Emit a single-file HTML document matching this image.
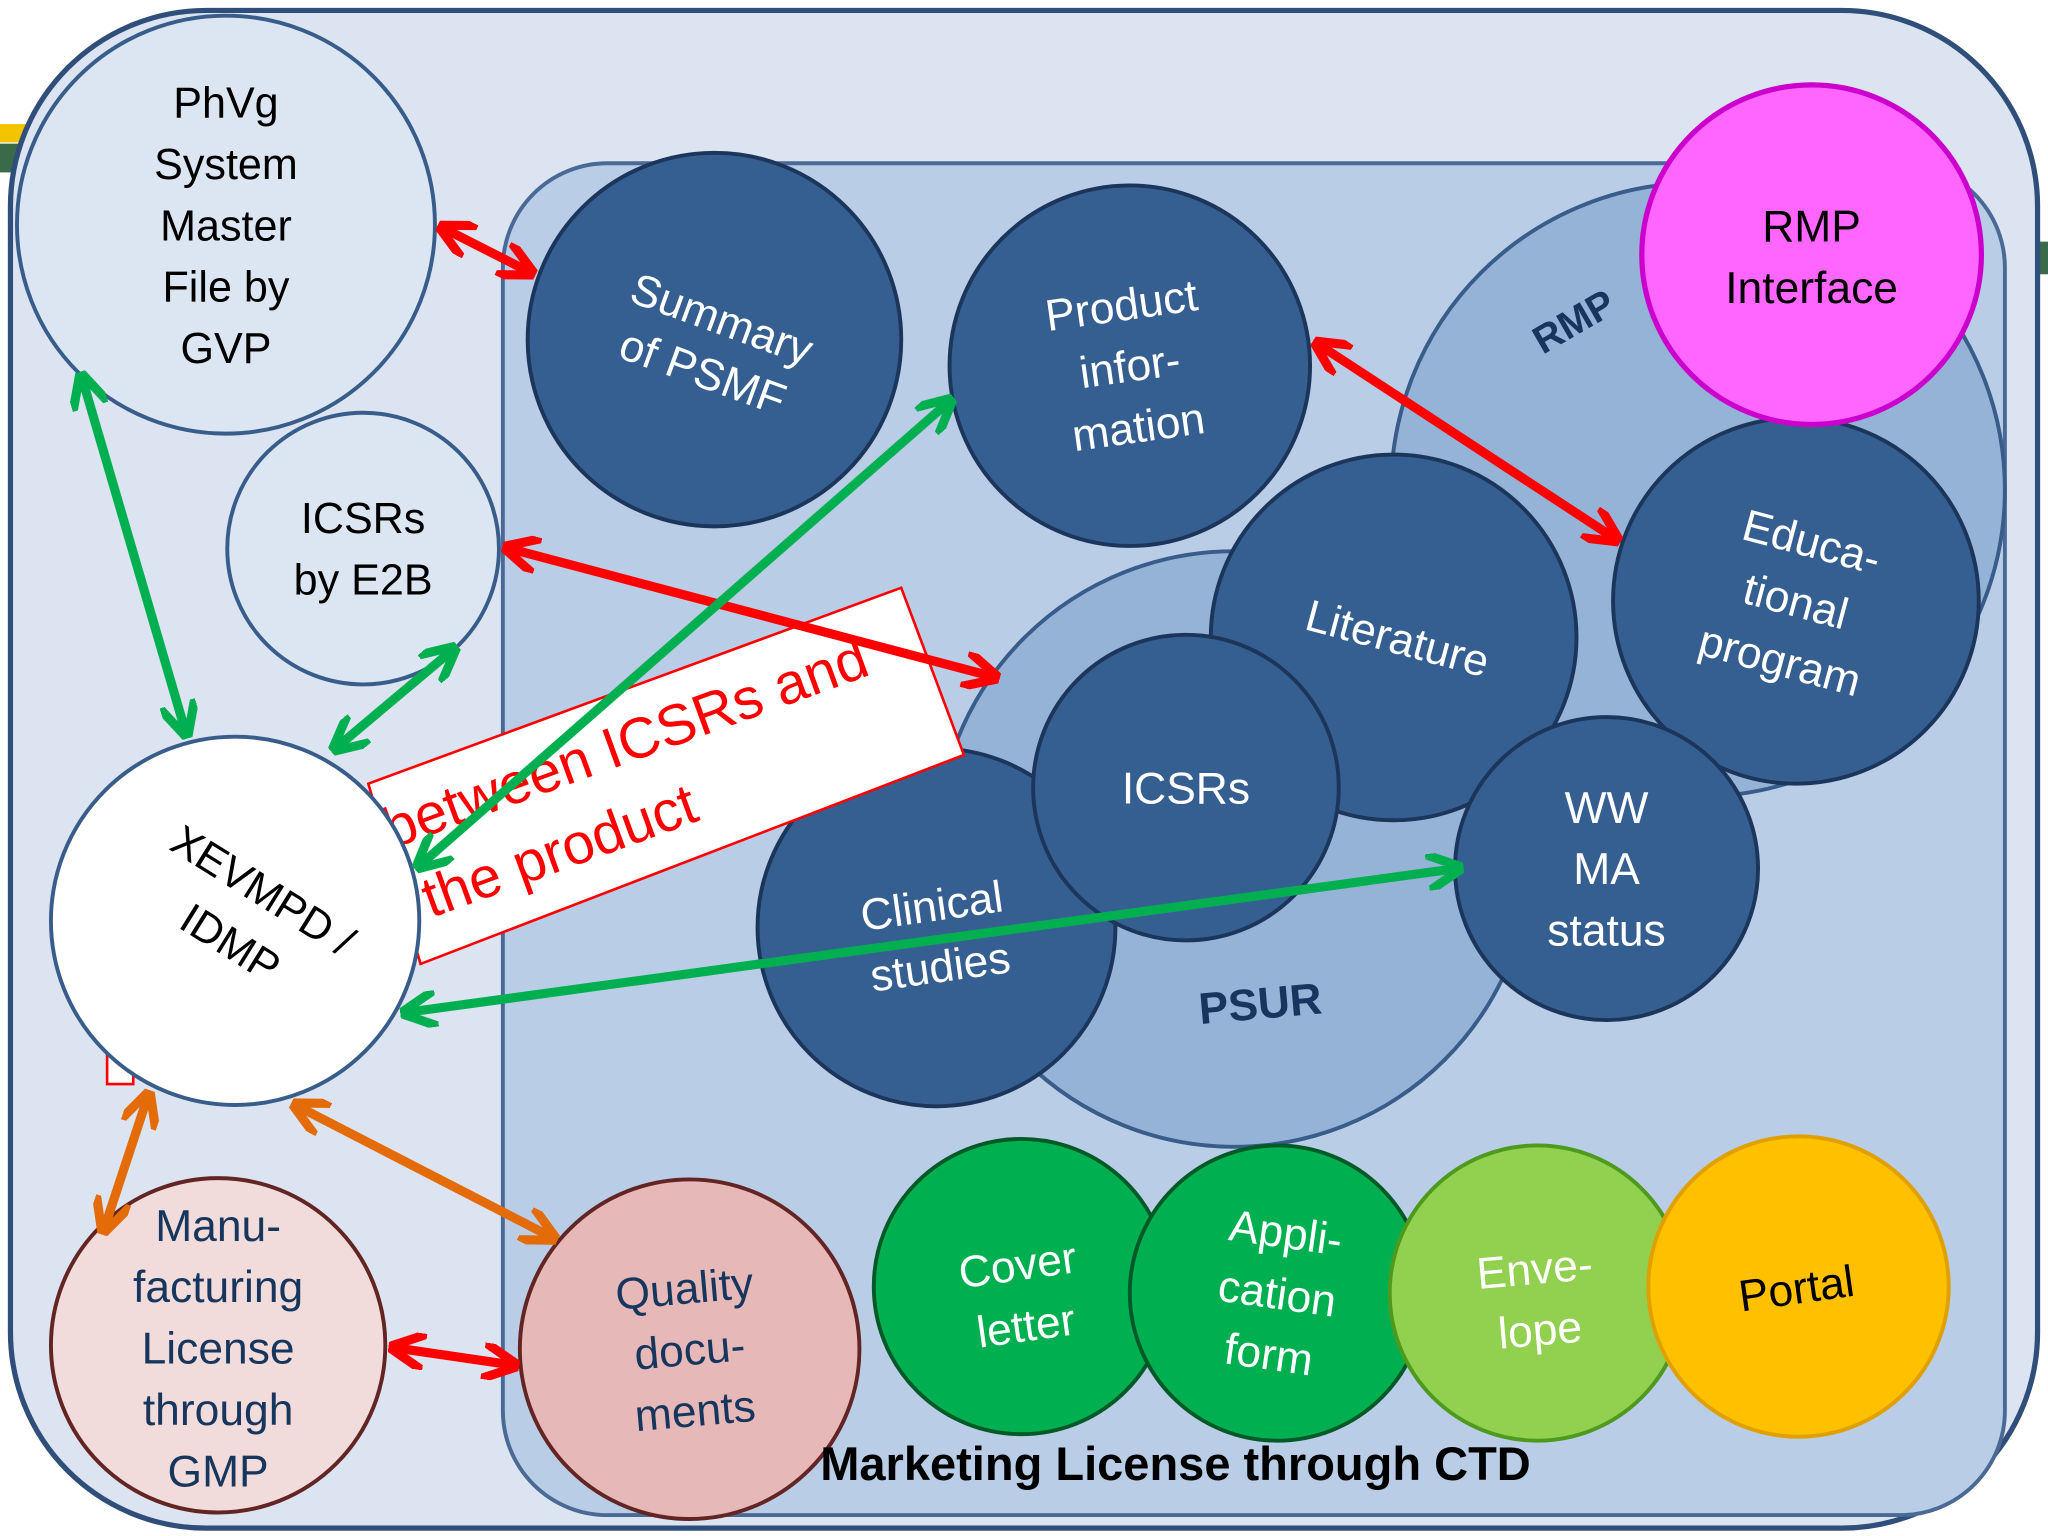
<!DOCTYPE html>
<html><head><meta charset="utf-8"><style>
html,body{margin:0;padding:0;background:#fff;}
svg{display:block;}
text{font-family:"Liberation Sans",sans-serif;}
</style></head><body>
<svg width="2048" height="1536" viewBox="0 0 1568 1176" xmlns="http://www.w3.org/2000/svg">
<defs>
<marker id="r" viewBox="0 0 10 10" refX="8" refY="5" markerWidth="4" markerHeight="4" orient="auto-start-reverse"><path d="M0,0 L10,5 L0,10" fill="none" stroke="#ff0000" stroke-width="2.5"/></marker>
<marker id="g" viewBox="0 0 10 10" refX="8" refY="5" markerWidth="4" markerHeight="4" orient="auto-start-reverse"><path d="M0,0 L10,5 L0,10" fill="none" stroke="#00b050" stroke-width="2.5"/></marker>
<marker id="o" viewBox="0 0 10 10" refX="8" refY="5" markerWidth="4" markerHeight="4" orient="auto-start-reverse"><path d="M0,0 L10,5 L0,10" fill="none" stroke="#e36c09" stroke-width="2.5"/></marker>
</defs>
<rect x="0" y="95" width="30" height="14" fill="#f5c400"/>
<rect x="0" y="110" width="30" height="22" fill="#3a6a4a"/>
<rect x="1545" y="185" width="23" height="25" fill="#3a6a4a"/>
<rect x="8" y="8" width="1552" height="1162" rx="150" fill="#dce3f1" stroke="#2f4e7a" stroke-width="4"/>
<rect x="385" y="125" width="1150" height="1035" rx="80" fill="#b9cde6" stroke="#4a6a95" stroke-width="3"/>
<circle cx="1300" cy="375" r="235" fill="#95b3d7" stroke="#385d8a" stroke-width="3"/>
<circle cx="945" cy="650" r="228" fill="#95b3d7" stroke="#385d8a" stroke-width="3"/>
<text transform="translate(1210,255) rotate(-30)" font-size="30" font-weight="bold" fill="#17365d" text-anchor="middle">RMP</text>
<text x="965" y="780" font-size="34" font-weight="bold" fill="#17365d" text-anchor="middle" transform="rotate(-5 965 770)">PSUR</text>
<g fill="#365f91" stroke="#1c355a" stroke-width="3">
<circle cx="547" cy="260" r="143"/>
<circle cx="865" cy="280" r="138"/>
<circle cx="1067" cy="488" r="140"/>
<circle cx="1375" cy="460" r="140"/>
<circle cx="717" cy="710" r="137"/>
<circle cx="908" cy="603" r="117"/>
<circle cx="1230" cy="665" r="116"/>
</g>
<g fill="#fff" font-size="34" text-anchor="middle">
<text transform="translate(547,260) rotate(20)"><tspan x="0" y="-5">Summary</tspan><tspan x="0" y="38">of PSMF</tspan></text>
<text transform="translate(865,280) rotate(-8)"><tspan x="0" y="-35">Product</tspan><tspan x="0" y="12">infor-</tspan><tspan x="0" y="59">mation</tspan></text>
<text transform="translate(1067,500) rotate(15)">Literature</text>
<text transform="translate(1375,460) rotate(15)"><tspan x="0" y="-35">Educa-</tspan><tspan x="0" y="12">tional</tspan><tspan x="0" y="59">program</tspan></text>
<text transform="translate(717,720) rotate(-8)"><tspan x="0" y="-15">Clinical</tspan><tspan x="0" y="32">studies</tspan></text>
<text x="908" y="615">ICSRs</text>
<text x="1230" y="630">WW</text><text x="1230" y="677">MA</text><text x="1230" y="724">status</text>
</g>
<circle cx="173" cy="172" r="160" fill="#dce6f2" stroke="#385d8a" stroke-width="3"/>
<circle cx="278" cy="420" r="104" fill="#dce6f2" stroke="#385d8a" stroke-width="3"/>
<g fill="#000" font-size="33" text-anchor="middle">
<text x="173" y="90">PhVg</text><text x="173" y="137">System</text><text x="173" y="184">Master</text><text x="173" y="231">File by</text><text x="173" y="278">GVP</text>
<text x="278" y="408">ICSRs</text><text x="278" y="455">by E2B</text>
</g>
<polygon points="282,600 690,450 738,578 322,738" fill="#fff" stroke="#ff0000" stroke-width="2"/>
<text transform="translate(300,650) rotate(-20)" font-size="44" fill="#ff0000"><tspan x="0" y="0">between ICSRs and</tspan><tspan x="10" y="60">the product</tspan></text>
<rect x="82" y="800" width="20" height="30" fill="#fff" stroke="#ff0000" stroke-width="2"/>
<circle cx="180" cy="705" r="141" fill="#fff" stroke="#385d8a" stroke-width="3"/>
<text transform="translate(190,700) rotate(32)" font-size="33" text-anchor="middle" fill="#000"><tspan x="0" y="-10">XEVMPD /</tspan><tspan x="0" y="37">IDMP</tspan></text>
<circle cx="167" cy="1030" r="128" fill="#f2dcdb" stroke="#632523" stroke-width="3"/>
<circle cx="528" cy="1033" r="130" fill="#e6b9b8" stroke="#632523" stroke-width="3"/>
<g font-size="34" text-anchor="middle" fill="#17365d">
<text x="167" y="950">Manu-</text><text x="167" y="997">facturing</text><text x="167" y="1044">License</text><text x="167" y="1091">through</text><text x="167" y="1138">GMP</text>
<text transform="translate(528,1033) rotate(-5)"><tspan x="0" y="-35">Quality</tspan><tspan x="0" y="12">docu-</tspan><tspan x="0" y="59">ments</tspan></text>
</g>
<circle cx="782" cy="985" r="113" fill="#00b050" stroke="#005a28" stroke-width="3"/>
<circle cx="978" cy="990" r="113" fill="#00b050" stroke="#005a28" stroke-width="3"/>
<circle cx="1177" cy="990" r="113" fill="#92d050" stroke="#4f9a1e" stroke-width="3"/>
<circle cx="1377" cy="985" r="115" fill="#ffc000" stroke="#e0a000" stroke-width="3"/>
<g font-size="34" text-anchor="middle" fill="#fff">
<text transform="translate(782,990) rotate(-8)"><tspan x="0" y="-10">Cover</tspan><tspan x="0" y="37">letter</tspan></text>
<text transform="translate(978,990) rotate(8)"><tspan x="0" y="-35">Appli-</tspan><tspan x="0" y="12">cation</tspan><tspan x="0" y="59">form</tspan></text>
<text transform="translate(1177,995) rotate(-5)"><tspan x="0" y="-12">Enve-</tspan><tspan x="0" y="35">lope</tspan></text>
<text transform="translate(1377,998) rotate(-8)" fill="#000">Portal</text>
</g>
<circle cx="1387" cy="195" r="130" fill="#ff66ff" stroke="#cc00cc" stroke-width="4"/>
<text x="1387" y="185" font-size="34" text-anchor="middle" fill="#000">RMP</text>
<text x="1387" y="232" font-size="34" text-anchor="middle" fill="#000">Interface</text>
<text x="900" y="1133" font-size="36" font-weight="bold" text-anchor="middle" fill="#000">Marketing License through CTD</text>
<g stroke-width="7" fill="none">
<line x1="340" y1="175" x2="405" y2="208" stroke="#ff0000" marker-start="url(#r)" marker-end="url(#r)"/>
<line x1="390" y1="420" x2="760" y2="518" stroke="#ff0000" marker-start="url(#r)" marker-end="url(#r)"/>
<line x1="1010" y1="264" x2="1236" y2="412" stroke="#ff0000" marker-start="url(#r)" marker-end="url(#r)"/>
<line x1="303" y1="1032" x2="392" y2="1045" stroke="#ff0000" marker-start="url(#r)" marker-end="url(#r)"/>
<line x1="63" y1="290" x2="142" y2="560" stroke="#00b050" marker-start="url(#g)" marker-end="url(#g)"/>
<line x1="258" y1="572" x2="346" y2="498" stroke="#00b050" marker-start="url(#g)" marker-end="url(#g)"/>
<line x1="322" y1="662" x2="726" y2="308" stroke="#00b050" marker-start="url(#g)" marker-end="url(#g)"/>
<line x1="312" y1="775" x2="1115" y2="665" stroke="#00b050" marker-start="url(#g)" marker-end="url(#g)"/>
<line x1="80" y1="940" x2="113" y2="840" stroke="#e36c09" marker-start="url(#o)" marker-end="url(#o)"/>
<line x1="228" y1="847" x2="422" y2="947" stroke="#e36c09" marker-start="url(#o)" marker-end="url(#o)"/>
</g>
</svg>
</body></html>
